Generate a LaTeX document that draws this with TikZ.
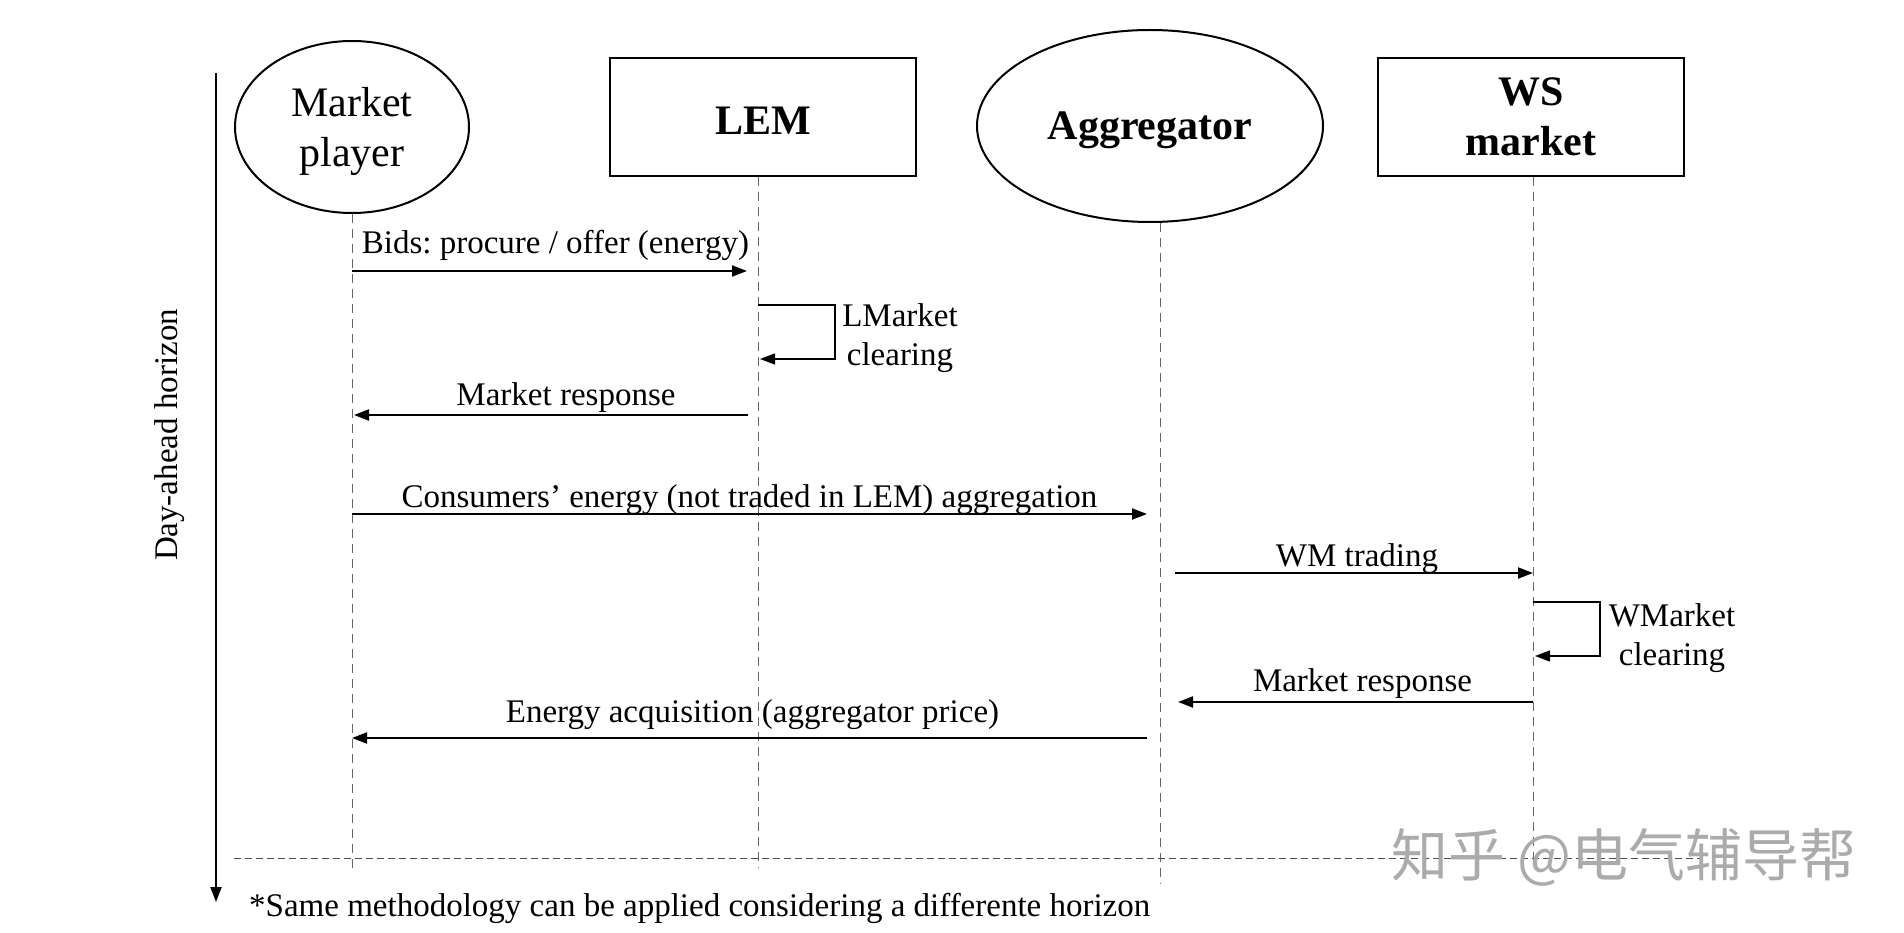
\documentclass[tikz,border=0pt]{standalone}
\usepackage{fontspec}
\setmainfont{Liberation Serif}
\newfontfamily\cjkfont{Noto Sans CJK SC}
\usetikzlibrary{arrows.meta,positioning,calc,shapes.geometric}
\frenchspacing
\tikzset{
  actor/.style={ellipse, draw=black, line width=2pt, align=center, inner sep=0pt, font=\fontsize{42}{50}\selectfont},
  sysbox/.style={rectangle, draw=black, line width=2pt, align=center, minimum width=306pt, minimum height=118pt, font=\fontsize{42}{50}\selectfont\bfseries},
  lifeline/.style={draw=black!60, line width=1pt, dash pattern=on 9pt off 6pt},
  sepline/.style={draw=black!70, line width=1pt, dash pattern=on 7pt off 4pt},
  msg/.style={-{Triangle[length=15pt,width=11pt]}, line width=2pt},
  loopmsg/.style={-{Triangle[length=15pt,width=11pt]}, line width=1.3pt},
  lbl/.style={font=\fontsize{33}{39}\selectfont, inner sep=0pt},
}

\begin{document}
\begin{tikzpicture}[x=1pt,y=-1pt]
\useasboundingbox (0,0) rectangle (1904,933);
% participants
\node[actor, minimum width=234pt, minimum height=172pt, text depth=-6pt] (player) at (352,127) {Market\\player};
\node[sysbox, text height=36pt] (lem) at (763,117) {LEM};
\node[actor, minimum width=346pt, minimum height=192pt, text depth=-4pt, font=\fontsize{42}{50}\selectfont\bfseries] (agg) at (1150,126) {Aggregator};
\node[sysbox, text depth=-7pt] (ws) at (1531,117) {WS\\market};
% lifelines
\coordinate (playerend) at (352,874);
\coordinate (lemend) at (758,868);
\coordinate (aggend) at (1160,884);
\coordinate (wsend) at (1533,865);
\draw[lifeline] (player.south) -- (playerend);
\draw[lifeline] (lem.south -| lemend) -- (lemend);
\draw[lifeline] ([xshift=10pt]agg.south) -- (aggend);
\draw[lifeline] (ws.south -| wsend) -- (wsend);
% time axis
\coordinate (ttop) at (216,73);
\coordinate (tbot) at (216,902);
\draw[msg] (ttop) -- (tbot);
\node[lbl, rotate=90] (horizon) at (170,435) {Day-ahead horizon};
% messages
\coordinate (r1) at (0,271);
\coordinate (r2) at (0,415);
\coordinate (r3) at (0,514);
\coordinate (r4) at (0,573);
\coordinate (r5) at (0,702);
\coordinate (r6) at (0,738);
\draw[msg] (playerend |- r1) -- ([xshift=-11pt]lemend |- r1)
  node[lbl, midway, anchor=base, yshift=17pt, xshift=6pt] {Bids: procure / offer (energy)};
\draw[msg] ([xshift=-10pt]lemend |- r2) -- ([xshift=2pt]playerend |- r2)
  node[lbl, midway, anchor=base, yshift=10pt, xshift=15pt] {Market response};
\draw[msg] (playerend |- r3) -- ([xshift=-13pt]aggend |- r3)
  node[lbl, midway, anchor=base, yshift=7pt] {Consumers’ energy (not traded in LEM) aggregation};
\draw[msg] ([xshift=15pt]aggend |- r4) -- (wsend |- r4)
  node[lbl, midway, anchor=base, yshift=7pt, xshift=3pt] {WM trading};
\draw[msg] (wsend |- r5) -- ([xshift=18pt]aggend |- r5)
  node[lbl, midway, anchor=base, yshift=11pt, xshift=7pt] {Market response};
\draw[msg] ([xshift=-13pt]aggend |- r6) -- (playerend |- r6)
  node[lbl, midway, anchor=base, yshift=16pt, xshift=3pt] {Energy acquisition (aggregator price)};
% self loops
\coordinate (l1a) at (835,305);
\coordinate (l1b) at (835,359);
\draw[loopmsg] (lemend |- l1a) -- (l1a) -- (l1b) -- ([xshift=2pt]lemend |- l1b);
\node[lbl, align=center] (lclear) at (900,338) {LMarket\\clearing};
\coordinate (l2a) at (1600,602);
\coordinate (l2b) at (1600,656);
\draw[loopmsg] (wsend |- l2a) -- (l2a) -- (l2b) -- ([xshift=2pt]wsend |- l2b);
\node[lbl, align=center] (wclear) at (1672,638) {WMarket\\clearing};
% end of horizon
\coordinate (hl) at (234,858);
\coordinate (hr) at (1700,858);
\draw[sepline] (hl) -- (hr);
\node[lbl, anchor=west] (note) at (249,908) {*Same methodology can be applied considering a differente horizon};
\node[font=\cjkfont\fontsize{57}{57}\selectfont, text=black!33, anchor=west, inner sep=0pt] (mark) at (1391,857) {知乎 @电气辅导帮};
\end{tikzpicture}
\end{document}
